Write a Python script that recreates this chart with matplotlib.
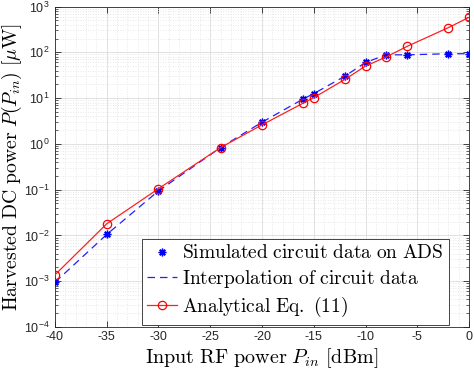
import numpy as np
import matplotlib
matplotlib.use("Agg")
import matplotlib.pyplot as plt
from matplotlib.ticker import LogLocator, MultipleLocator, NullFormatter
from matplotlib.lines import Line2D

plt.rcParams['font.family'] = ['Liberation Sans', 'DejaVu Sans']
plt.rcParams['mathtext.fontset'] = 'custom'
plt.rcParams['mathtext.rm'] = 'Liberation Sans'
plt.rcParams['mathtext.it'] = 'Liberation Sans:italic'

# Data
pin_dbm = [-40, -35, -30, -24, -20, -16, -15, -12, -10, -8, -6, -2, 0]
sim_uw = [0.00095, 0.0105, 0.094, 0.83, 2.97, 9.6, 12.5, 30, 60, 88, 88, 93, 93]
ana_uw = [0.00138, 0.018, 0.105, 0.83, 2.6, 7.8, 10.2, 25.5, 50, 79, 134, 345, 580]

xlabel = r'$\mathrm{Input\ RF\ power}\ P_{in}\ [\mathrm{dBm}]$'
ylabel = r'$\mathrm{Harvested\ DC\ power}\ P(P_{in})\ [\mu\mathrm{W}]$'
leg_labels = [r'$\mathrm{Simulated\ circuit\ data\ on\ ADS}$',
              r'$\mathrm{Interpolation\ of\ circuit\ data}$',
              r'$\mathrm{Analytical\ Eq.\ (11)}$']

W, H = 474, 375
fig = plt.figure(figsize=(W / 100, H / 100), dpi=100)
ax = fig.add_axes([55 / W, 1 - 327 / H, (469 - 55) / W, (327 - 6.5) / H])

ms = 5.5
ax.plot(pin_dbm, sim_uw, linestyle=(0, (6, 4)), color='#2020ff', lw=0.9, zorder=3)
ax.plot(pin_dbm, sim_uw, linestyle='none', marker=(8, 2, 0), color='#0000ff',
        markersize=ms, markeredgewidth=1.0, zorder=4)
ax.plot(pin_dbm, ana_uw, '-', color='#ff2020', lw=0.9, marker='o', markersize=ms + 0.5,
        markerfacecolor='none', markeredgecolor='#ff0000', markeredgewidth=0.9, zorder=5)

ax.set_yscale('log')
ax.set_xlim(-40, 0)
ax.set_ylim(1e-4, 1e3)
ax.set_xticks(np.arange(-40, 1, 5))
ax.set_xticklabels([str(v) for v in range(-40, 1, 5)])
ax.xaxis.set_minor_locator(MultipleLocator(1))
ax.yaxis.set_major_locator(LogLocator(base=10, numticks=20))
ax.yaxis.set_minor_locator(LogLocator(base=10, subs=np.arange(2, 10), numticks=100))
ax.yaxis.set_minor_formatter(NullFormatter())
ax.xaxis.set_minor_formatter(NullFormatter())

ax.grid(True, which='major', color='#dcdcdc', lw=0.6, linestyle='-')
ax.grid(True, which='minor', color='#e0e0e0', lw=0.6, linestyle=(0, (1, 2)))
ax.set_axisbelow(True)

ax.tick_params(which='both', direction='in', top=True, right=True, labelsize=9, colors='#262626')
ax.tick_params(which='major', length=4, width=0.6, pad=3)
ax.tick_params(axis='y', which='major', pad=4)
ax.tick_params(which='minor', length=2, width=0.5)
ax.tick_params(axis='x', which='minor', length=0)
for s in ax.spines.values():
    s.set_linewidth(0.6)
    s.set_color('#262626')

ax.set_xlabel(xlabel, fontsize=14.5, math_fontfamily='cm', labelpad=2)
ax.set_ylabel(ylabel, fontsize=14.2, math_fontfamily='cm', labelpad=0)

handles = [Line2D([], [], linestyle='none', marker=(8, 2, 0), color='#0000ff', markersize=ms, markeredgewidth=1.0),
           Line2D([], [], linestyle=(0, (6, 4)), color='#2020ff', lw=0.9),
           Line2D([], [], color='#ff2020', lw=0.9, marker='o', markersize=ms + 0.5,
                  markerfacecolor='none', markeredgecolor='#ff0000', markeredgewidth=0.9)]
leg = ax.legend(handles, leg_labels, loc='upper left',
                bbox_to_anchor=(142 / W, 1 - 239 / H), bbox_transform=fig.transFigure,
                fancybox=False, framealpha=1, edgecolor='#262626', handlelength=1.5,
                handletextpad=0.3, borderpad=0.28, labelspacing=0.27, borderaxespad=0,
                prop={'size': 14, 'math_fontfamily': 'cm'})
leg.get_frame().set_linewidth(0.6)

fig.savefig('out.png', dpi=100)
